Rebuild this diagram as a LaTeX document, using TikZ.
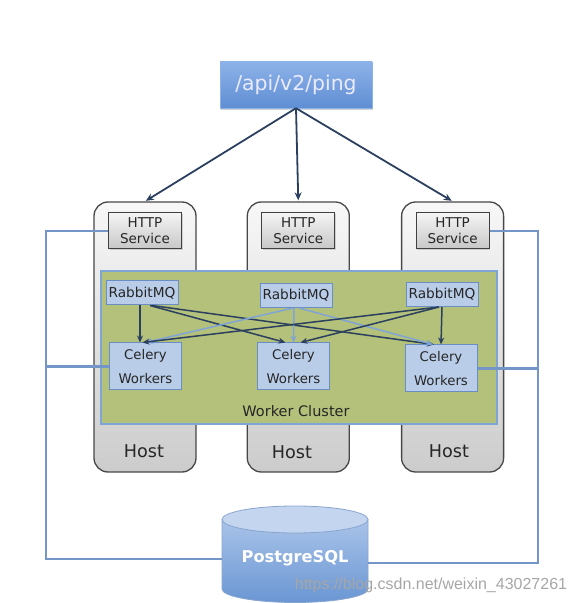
\documentclass[tikz,border=0pt]{standalone}
\usepackage{fontspec}
\setmainfont{DejaVu Sans}
\newfontfamily\markfont{Liberation Sans}
\usetikzlibrary{arrows.meta,positioning,shadows,backgrounds,calc}
\definecolor{pingtop}{HTML}{8DB2E8}
\definecolor{pingbot}{HTML}{5F8ED4}
\definecolor{navyline}{HTML}{2B3F5F}
\definecolor{paleline}{HTML}{7FA4D6}
\definecolor{busline}{HTML}{7395C8}
\definecolor{boxfill}{HTML}{B9CDE9}
\definecolor{boxedge}{HTML}{6A8EC4}
\definecolor{olive}{HTML}{B4C17A}
\definecolor{dbtop}{HTML}{A9C3E9}
\definecolor{dbbot}{HTML}{6A96D3}
\definecolor{dblid}{HTML}{C3D5EF}
\tikzstyle{ping box}=[top color=pingtop, bottom color=pingbot, draw=pingtop, minimum width=152pt, minimum height=46pt, text=white!92!blue, font=\fontsize{20.4}{24}\selectfont, drop shadow={shadow xshift=1pt,shadow yshift=-2.5pt,opacity=.35}]
\tikzstyle{host}=[draw=black!72, line width=1.3pt, rounded corners=14pt, top color=black!3, bottom color=black!20, minimum width=102pt, minimum height=270pt]
\tikzstyle{http}=[draw=black!75, line width=1.1pt, top color=black!4, bottom color=black!22, minimum width=73pt, minimum height=36pt, inner sep=0pt, align=center, text=black!85, font=\fontsize{13.5}{16.5}\selectfont, drop shadow={shadow xshift=1pt,shadow yshift=-1.5pt,opacity=.3}]
\tikzstyle{queue}=[draw=boxedge, fill=boxfill, line width=1pt, minimum width=72pt, minimum height=24pt, inner sep=0pt, text=black!85, font=\fontsize{13.7}{16}\selectfont]
\tikzstyle{worker}=[queue, minimum height=47pt, align=center, font=\fontsize{13.3}{24}\selectfont]
\tikzstyle{cluster}=[draw=paleline, line width=1.2pt, fill=olive, minimum width=396pt, minimum height=153pt]
\tikzstyle{caption}=[text=black!85, inner sep=0pt]
\tikzstyle{fan}=[->, >={Stealth[length=8pt,width=7pt]}, draw=navyline, line width=1.8pt, shorten >=1pt]
\tikzstyle{route}=[->, >={Stealth[length=7pt,width=6pt]}, line width=1.5pt, draw=navyline]
\tikzstyle{route pale}=[route, draw=paleline]
\tikzstyle{bus}=[draw=busline, line width=2.6pt]
\tikzstyle{db}=[minimum width=146pt, inner sep=0pt, text=white, font=\bfseries\fontsize{16.2}{19}\selectfont]
\begin{document}
\begin{tikzpicture}[x=1pt,y=1pt]
  \useasboundingbox (0,0) rectangle (575,603);

  \node[ping box] (ping) at (296,518) {/api/v2/ping};

  \node[host] (hostA) at (145,266) {};
  \node[host, right=50pt of hostA] (hostB) {};
  \node[host, right=51pt of hostB] (hostC) {};

  \node[http, below=11pt of hostA.north] (httpA) {HTTP\\Service};
  \node[http, below=11pt of hostB.north] (httpB) {HTTP\\Service};
  \node[http, below=11pt of hostC.north] (httpC) {HTTP\\Service};

  \node[cluster] (cluster) at (299,255.5) {};
  \node[queue] (rmqA) at (142,310) {RabbitMQ};
  \node[queue] (rmqB) at (296,307.5) {RabbitMQ};
  \node[queue] (rmqC) at (442,308.5) {RabbitMQ};
  \node[worker] (celA) at (145.5,236.5) {Celery\\Workers};
  \node[worker] (celB) at (293.5,236.5) {Celery\\Workers};
  \node[worker] (celC) at (441,234.5) {Celery\\Workers};
  \node[caption, font=\fontsize{14.5}{17}\selectfont] (clusterLabel) at (296,192) {Worker Cluster};

  \node[caption, font=\fontsize{17.6}{20}\selectfont] (hostAlabel) at (144,152) {Host};
  \node[caption, font=\fontsize{17.6}{20}\selectfont] (hostBlabel) at (292,151) {Host};
  \node[caption, font=\fontsize{17.6}{20}\selectfont] (hostClabel) at (449,152) {Host};

  \path (ping.south) edge[fan] (hostA.north);
  \path (ping.south) edge[fan] (hostB.north);
  \path (ping.south) edge[fan] (hostC.north);

  \draw[route] ([xshift=-2pt]rmqA.south) -- ([xshift=-5.5pt]celA.north);
  \draw[route] ([xshift=8pt]rmqA.south) -- ([xshift=-8pt]celB.north);
  \draw[route] ([xshift=10pt]rmqA.south) -- ([xshift=-7pt]celC.north);
  \draw[route pale] ([xshift=-3pt]rmqB.south) -- (celA.north);
  \draw[route pale] ([xshift=-2pt]rmqB.south) -- (celB.north);
  \draw[route pale] ([xshift=3pt]rmqB.south) -- ([xshift=-8pt]celC.north);
  \draw[route] ([xshift=-3pt]rmqC.south) -- ([xshift=-3pt]celA.north);
  \draw[route] ([xshift=-3pt]rmqC.south) -- ([xshift=7pt]celB.north);
  \draw[route] (rmqC.south) -- (celC.north);

  \node[db] (pg) at (295,45) {PostgreSQL};
  \begin{scope}[on background layer]
    \path[top color=dbtop, bottom color=dbbot, draw=boxedge!80, line width=.8pt]
      ($(pg.center)+(-73,38.5)$) -- ($(pg.center)+(-73,-31)$)
      arc[start angle=180, end angle=360, x radius=73pt, y radius=13.5pt]
      -- ($(pg.center)+(73,38.5)$) -- cycle;
    \draw[fill=dblid, draw=boxedge!80, line width=.8pt] ($(pg.center)+(0,38.5)$) ellipse[x radius=73pt, y radius=13.5pt];
  \end{scope}

  \coordinate (busL) at (46,44);
  \coordinate (busR) at (538,40);
  \draw[bus] (httpA.west) -| (busL) -- (busL -| pg.west);
  \draw[bus] (celA.west) -- (celA.west -| busL);
  \draw[bus] (httpC.east) -| (busR) -- (busR -| pg.east);
  \draw[bus] (celC.east) -- (celC.east -| busR);

  \node[font=\markfont\fontsize{16}{19}\selectfont, text=black!35, inner sep=0pt] (mark) at (431,18) {https://blog.csdn.net/weixin\_43027261};
\end{tikzpicture}
\end{document}
